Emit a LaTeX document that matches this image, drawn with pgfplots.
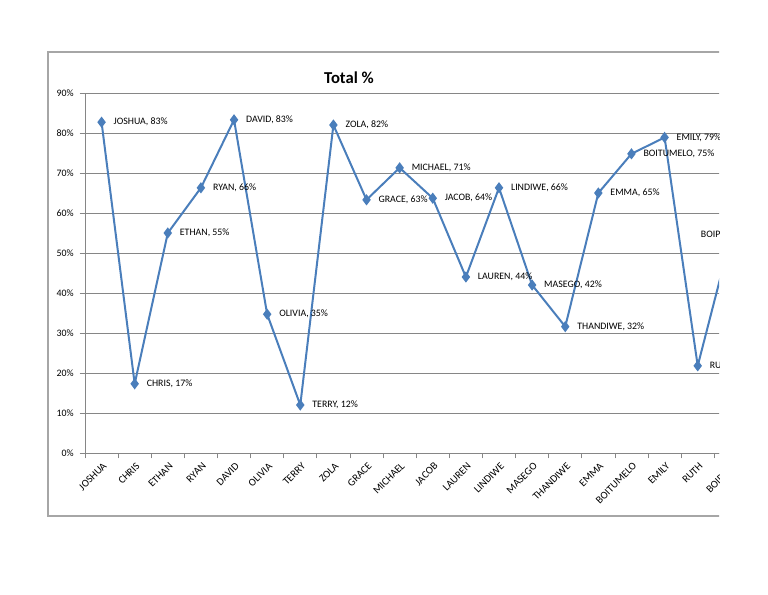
\documentclass[border=0pt]{standalone}
\usepackage{pgfplots}
\pgfplotsset{compat=1.18}
\usepackage{fontspec}
\setmainfont{Carlito}
\definecolor{xlblue}{HTML}{4A7EBB}
\definecolor{gridgray}{HTML}{868686}
\definecolor{framegray}{HTML}{A6A6A6}

% 1 px of the reference = 0.75pt
\begin{document}
\begin{tikzpicture}
\useasboundingbox (0,0) rectangle (576pt,445.5pt);
\clip (0,0) rectangle (539.25pt,445.5pt);
\draw[framegray, line width=0.8pt] (36pt,58.5pt) rectangle (600pt,406.5pt);
\node[font=\fontsize{12.5}{14}\selectfont\bfseries] at (261.75pt,387.5pt) {Total \%};
\begin{axis}[
  at={(63.75pt,105.75pt)}, anchor=south west,
  scale only axis, width=496.8pt, height=270pt,
  xmin=-0.5, xmax=19.5, ymin=0, ymax=90,
  clip=false,
  axis lines*=left,
  axis line style={gridgray, line width=0.6pt},
  ymajorgrids, grid style={gridgray, line width=0.6pt},
  ytick={0,10,...,90},
  yticklabels={0\%,10\%,20\%,30\%,40\%,50\%,60\%,70\%,80\%,90\%},
  xtick={-0.5,0.5,...,19.5},
  x tick label as interval,
  xticklabels={JOSHUA,CHRIS,ETHAN,RYAN,DAVID,OLIVIA,TERRY,ZOLA,GRACE,MICHAEL,JACOB,LAUREN,LINDIWE,MASEGO,THANDIWE,EMMA,BOITUMELO,EMILY,RUTH,BOIPELO},
  tick style={gridgray, line width=0.6pt},
  major tick length=4pt,
  tick align=outside,
  xtick pos=bottom, ytick pos=left,
  tick label style={font=\fontsize{7.4}{8}\selectfont, black},
  x tick label style={font=\fontsize{7.9}{8}\selectfont, rotate=45, anchor=east, xshift=2pt, yshift=-5pt},
  y tick label style={xshift=-1pt},
  nodes near coords,
  point meta=explicit symbolic,
  every node near coord/.append style={anchor=west, xshift=5pt, yshift=0pt, font=\fontsize{7.4}{8}\selectfont, black},
]
\addplot[xlblue, line width=1.5pt, mark=diamond*, mark size=3pt,
  mark options={fill=xlblue, solid}]
  table[meta=label] {
x y label
0 82.7 JOSHUA,~83\%
1 17.3 CHRIS,~17\%
2 55.0 ETHAN,~55\%
3 66.3 RYAN,~66\%
4 83.3 DAVID,~83\%
5 34.7 OLIVIA,~35\%
6 12.0 TERRY,~12\%
7 82.0 ZOLA,~82\%
8 63.3 GRACE,~63\%
9 71.3 MICHAEL,~71\%
10 63.7 JACOB,~64\%
11 44.0 LAUREN,~44\%
12 66.3 LINDIWE,~66\%
13 42.0 MASEGO,~42\%
14 31.6 THANDIWE,~32\%
15 65.0 EMMA,~65\%
16 74.8 BOITUMELO,~75\%
17 78.9 EMILY,~79\%
18 21.8 RUTH,~22\%
19 54.0 {}
};
\addplot[draw=none, nodes near coords, point meta=explicit symbolic,
  every node near coord/.append style={anchor=west, xshift=-31pt, yshift=1.5pt}]
  table[meta=label] {
x y label
19 54.0 BOIPELO,~54\%
};
\end{axis}
\end{tikzpicture}
\end{document}
